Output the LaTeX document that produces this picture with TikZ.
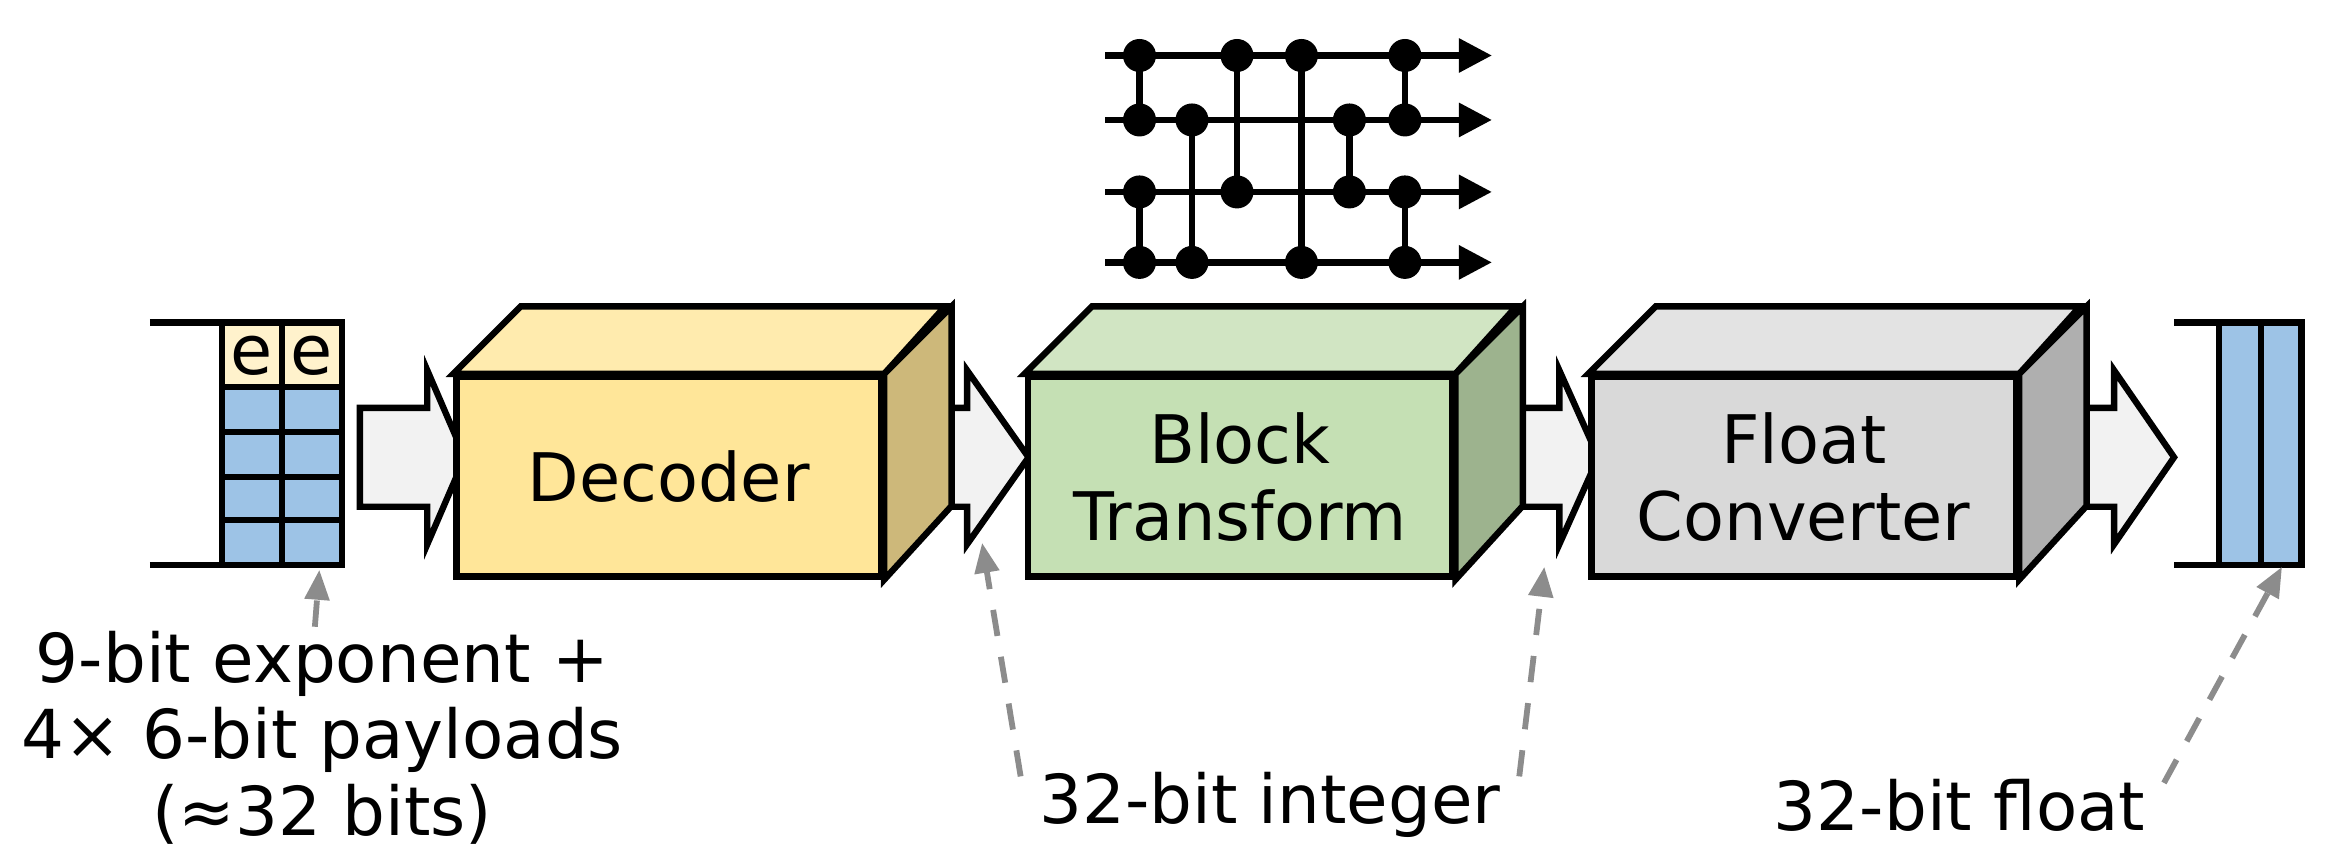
\documentclass[tikz,border=0pt]{standalone}
\usepackage{fontspec}
\setmainfont{DejaVu Sans}
\usetikzlibrary{arrows.meta,calc}

\tikzset{
  box/.style={draw, line width=1.2pt, line join=miter, minimum width=2.83cm, minimum height=1.33cm, inner sep=0pt, align=center},
  face/.style={draw, line width=1.2pt, line join=miter},
  blockarrow/.style={draw, line width=1.2pt, fill=arrowfill, line join=miter},
  cell/.style={draw, line width=1.2pt},
  wire/.style={line width=1.2pt, -{Triangle[length=0.22cm,width=0.22cm]}},
  link/.style={line width=1.2pt},
  dot/.style={circle, fill=black, inner sep=0pt, minimum size=0.22cm},
  note/.style={gray!90, dashed, line width=1.1pt, dash pattern=on 5pt off 4pt, -{Triangle[length=0.2cm,width=0.16cm]}},
  lbl/.style={align=center, font=\fontsize{12.8}{14.5}\selectfont}
}
\definecolor{arrowfill}{HTML}{F2F2F2}
\definecolor{decfront}{HTML}{FFE699}
\definecolor{dectop}{HTML}{FFEBAE}
\definecolor{decside}{HTML}{CDB87A}
\definecolor{blkfront}{HTML}{C5E0B4}
\definecolor{blktop}{HTML}{D1E5C3}
\definecolor{blkside}{HTML}{9DB38E}
\definecolor{fltfront}{HTML}{D9D9D9}
\definecolor{flttop}{HTML}{E3E3E3}
\definecolor{fltside}{HTML}{AFAFAF}
\definecolor{bitblue}{HTML}{9DC3E6}
\definecolor{expfill}{HTML}{FFF2CC}

% block arrow: start x, head base x, tip x
\newcommand{\blockarr}[3]{%
  \draw[blockarrow] (#1,272) -- (#2,272) -- (#2,247) -- (#3,305) -- (#2,363) -- (#2,338) -- (#1,338) -- cycle;}

% cuboid: name, centre x, front, top, side, text
\newcommand{\cuboid}[6]{%
  \node[box, fill=#3, font=\fontsize{12.7}{14.5}\selectfont] (#1) at (#2,318) {#6};
  \draw[face, fill=#4] (#1.north west) -- ++(45,-45) -- ++(283,0) -- (#1.north east) -- cycle;
  \draw[face, fill=#5] (#1.north east) -- ++(45,-45) -- ++(0,133) -- (#1.south east) -- cycle;}

\begin{document}
\begin{tikzpicture}[x=0.01cm, y=-0.01cm]
  \useasboundingbox (0,0) rectangle (1568,578);

  % block arrows
  \blockarr{240}{285}{310}
  \blockarr{598}{645}{686}
  \blockarr{993}{1040}{1066}
  \blockarr{1360}{1410}{1450}

  % stages
  \cuboid{dec}{446}{decfront}{dectop}{decside}{Decoder}
  \cuboid{blk}{827}{blkfront}{blktop}{blkside}{Block\\Transform}
  \cuboid{flt}{1203}{fltfront}{flttop}{fltside}{Float\\Converter}

  % input register
  \draw[link] (100,215) -- (148,215);
  \draw[link] (100,377) -- (148,377);
  \foreach \x in {148,188} {
    \draw[cell, fill=expfill] (\x,215) rectangle ++(40,43);
    \node[font=\fontsize{13}{14}\selectfont] at (\x+20,237) {e};
    \foreach \y in {258,288,318,347}
      \draw[cell, fill=bitblue] (\x,\y) rectangle ++(40,30);
  }
  \coordinate (inreg) at (213,380);

  % output register
  \draw[link] (1450,215) -- (1480,215);
  \draw[link] (1450,377) -- (1480,377);
  \draw[cell, fill=bitblue] (1480,215) rectangle (1508,377);
  \draw[cell, fill=bitblue] (1508,215) rectangle (1535,377);
  \coordinate (outreg) at (1522,378);

  % butterfly network
  \foreach \r/\y in {0/37,1/80,2/128,3/175}
    \draw[wire] (737,\y) -- (995,\y);
  \foreach \x/\a/\b in {760/37/80, 760/128/175, 795/80/175, 825/37/128, 868/37/175, 900/80/128, 937/37/80, 937/128/175}
    \draw[link] (\x,\a) -- (\x,\b);
  \foreach \x/\y in {760/37,825/37,868/37,937/37, 760/80,795/80,900/80,937/80,
                     760/128,825/128,900/128,937/128, 760/175,795/175,868/175,937/175}
    \node[dot] at (\x,\y) {};

  % labels
  \node[lbl] (inlbl) at (215,492) {9-bit exponent +\\4\texttimes{} 6-bit payloads\\(≈32 bits)};
  \node[lbl] (intlbl) at (847,537) {32-bit integer};
  \node[lbl] (fltlbl) at (1307,537) {32-bit float};
  \coordinate (gapA) at (655,362);
  \coordinate (gapB) at (1030,378);

  % annotations
  \draw[note] (210,418) -- (inreg);
  \draw[note] ([yshift=-0.15cm]intlbl.north west) -- (gapA);
  \draw[note] ([yshift=-0.15cm]intlbl.north east) -- (gapB);
  \draw[note] ([yshift=-0.15cm]fltlbl.north east) -- (outreg);
\end{tikzpicture}
\end{document}
